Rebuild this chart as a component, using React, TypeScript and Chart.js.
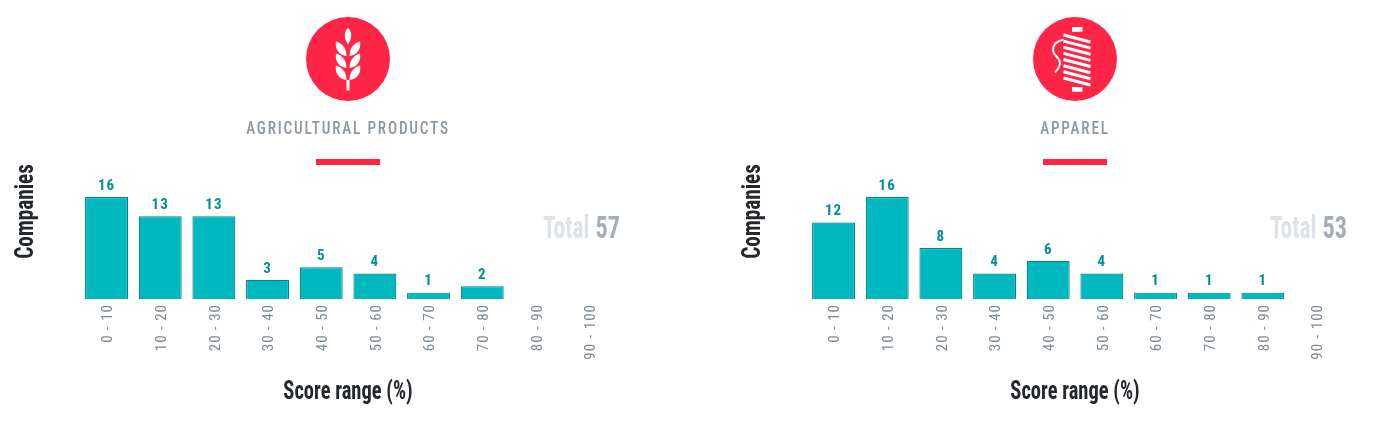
import React, { useEffect, useRef } from "react";
import { Chart, registerables } from "chart.js";

Chart.register(...registerables);

const scoreRanges = ["0 - 10", "10 - 20", "20 - 30", "30 - 40", "40 - 50", "50 - 60", "60 - 70", "70 - 80", "80 - 90", "90 - 100"];
const agriculturalCompanies = [16, 13, 13, 3, 5, 4, 1, 2, 0, 0];
const apparelCompanies = [12, 16, 8, 4, 6, 4, 1, 1, 1, 0];
const agriculturalTotal = 57;
const apparelTotal = 53;

const FONT = '"Roboto Condensed", Roboto, sans-serif';

const drawText = (ctx: any, text: string, x: number, y: number, font: string, color: string, align = "center", spacing = 0, rotate = 0, squeeze = 1) => {
	ctx.save();
	ctx.translate(x, y);
	ctx.rotate(rotate);
	ctx.scale(squeeze, 1);
	ctx.font = font;
	ctx.fillStyle = color;
	ctx.textAlign = align;
	ctx.textBaseline = "middle";
	ctx.letterSpacing = spacing + "px";
	ctx.fillText(text, 0, 0);
	ctx.restore();
};

// ticks need letter spacing and the scale has no option for it
const panelText = {
	id: "panelText",
	beforeDraw(chart: any) {
		chart.ctx.letterSpacing = "1px";
	},
	afterDatasetsDraw(chart: any) {
		const { ctx } = chart;
		const meta = chart.getDatasetMeta(0);
		meta.data.forEach((bar: any, i: number) => {
			const value = chart.data.datasets[0].data[i];
			if (value > 0) {
				drawText(ctx, String(value), bar.x, bar.y - 11, `bold 15px ${FONT}`, "#008f94", "center", 1);
			}
		});
	},
	afterDraw(chart: any) {
		const opts = chart.options.plugins.panelText;
		const { ctx } = chart;
		ctx.letterSpacing = "0px";
		drawText(ctx, opts.title, 348, 129.5, `500 18px ${FONT}`, "#8d98a1", "center", 2.1, 0, 0.85);
		drawText(ctx, "Companies", 27, 211.5, `bold 25px ${FONT}`, "#24282c", "center", 0, -Math.PI / 2, 0.85);
		drawText(ctx, "Score range (%)", 348, 393, `bold 25px ${FONT}`, "#24282c", "center", 0, 0, 0.82);
		drawText(ctx, String(opts.total), 620, 230, `bold 31px ${FONT}`, "#a5aeb6", "right", 0, 0, 0.78);
		drawText(ctx, "Total", 589.5, 230, `bold 31px ${FONT}`, "#dde3e9", "right", 0, 0, 0.76);
	},
};

const BarPanel = ({ title, values, total, left, icon }: any) => {
	const canvasRef = useRef<HTMLCanvasElement>(null);

	useEffect(() => {
		const chart = new Chart(canvasRef.current as HTMLCanvasElement, {
			type: "bar",
			data: {
				labels: scoreRanges,
				datasets: [
					{
						data: values,
						backgroundColor: "#00b8bf",
						borderColor: "#00858a",
						borderWidth: 1.2,
						barPercentage: 0.8,
						categoryPercentage: 1,
						clip: false as any,
					},
				],
			},
			options: {
				animation: false,
				responsive: false,
				layout: { padding: { left: 79.7, right: 39.6, top: 197, bottom: 0 } },
				plugins: {
					legend: { display: false },
					tooltip: { enabled: false },
					panelText: { title, total },
				} as any,
				scales: {
					x: {
						afterFit: (scale: any) => {
							scale.height = 139;
						},
						grid: { display: false, tickLength: 5 },
						border: { display: false },
						ticks: {
							color: "#7f8a93",
							font: { family: FONT, size: 15 },
							minRotation: 90,
							maxRotation: 90,
							autoSkip: false,
							padding: 0,
							labelOffset: 2,
						},
					},
					y: { display: false, min: 0, max: 16 },
				},
			},
			plugins: [panelText],
		});

		return () => {
			chart.destroy();
		};
	}, []);

	return (
		<div style={{ position: "absolute", left, top: 0, width: 656, height: 438 }}>
			<canvas ref={canvasRef} width={656} height={438} style={{ display: "block" }} />
			<svg width={100} height={100} viewBox="-50 -50 100 100" style={{ position: "absolute", left: 298, top: 9 }}>
				<circle cx={0} cy={0} r={42} fill="#ff2547" />
				{icon}
			</svg>
			<div style={{ position: "absolute", left: 316, top: 159, width: 64, height: 5.5, background: "#ff2547" }} />
		</div>
	);
};

const leaf = "M1.5,-3 C1.5,-11 6,-16 12,-17.5 C13.5,-9 8,-3.5 1.5,-3 Z";

const WheatIcon = () => (
	<g fill="#fff">
		<path d="M0,-31 C3.5,-28 5,-22 0,-14.5 C-5,-22 -3.5,-28 0,-31 Z" />
		{[0, 12, 24].map((dy) => (
			<g key={dy} transform={`translate(0 ${dy})`}>
				<path d={leaf} />
				<path d={leaf} transform="scale(-1 1)" />
			</g>
		))}
		<rect x={-1.5} y={21} width={3} height={10.5} />
	</g>
);

const ThreadIcon = () => (
	<g fill="none" stroke="#fff">
		<rect x={-3} y={-32} width={10.5} height={4.8} fill="#fff" stroke="none" />
		<rect x={-3} y={28} width={10.5} height={4.8} fill="#fff" stroke="none" />
		{[-20.5, -14.4, -8.2, -2.1, 4, 10.2, 16.3, 22.5].map((y) => (
			<line key={y} x1={-11.5} y1={y - 3.5} x2={15.5} y2={y + 3.5} strokeWidth={3} />
		))}
		<path d="M-11.5,-19.5 C-18,-18 -22,-14 -22,-9 C-22,-3 -15,-2 -15,4 C-15,8 -18,11 -20,13.5" strokeWidth={2} />
	</g>
);

const App = () => {
	return (
		<div style={{ position: "fixed", left: 0, top: 0, width: 1383, height: 438, overflow: "hidden", background: "#fff" }}>
			<BarPanel title="AGRICULTURAL PRODUCTS" values={agriculturalCompanies} total={agriculturalTotal} left={0} icon={<WheatIcon />} />
			<BarPanel title="APPAREL" values={apparelCompanies} total={apparelTotal} left={727} icon={<ThreadIcon />} />
		</div>
	);
};

export default App;
